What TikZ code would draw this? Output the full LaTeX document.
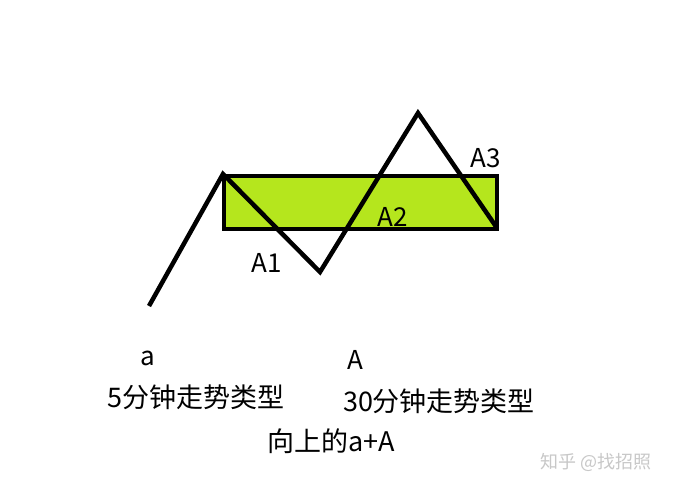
\documentclass[tikz,border=0pt]{standalone}
\usepackage{fontspec}
\setmainfont{Noto Sans CJK SC}
\definecolor{lime}{HTML}{B5E61D}
\definecolor{wm}{HTML}{C8C8C8}
\tikzset{
  lbl/.style={inner sep=0pt, font=\fontsize{26}{30}\selectfont},
  captext/.style={inner sep=0pt, font=\fontsize{27}{31}\selectfont},
  zig/.style={line width=4.5pt, black},
}
\begin{document}
\begin{tikzpicture}[x=1pt,y=-1pt]
\useasboundingbox[fill=white] (0,0) rectangle (678,491);
\draw[line width=4pt, fill=lime] (224,176) rectangle (497,228.5);
\coordinate (p0) at (149,306);
\coordinate (p1) at (223,174);
\coordinate (p2) at (320,272);
\coordinate (p3) at (418,113);
\coordinate (p4) at (497,228);
\draw[zig] (p0) -- (p1) -- (p2) -- (p3) -- (p4);
\node[lbl] (A1) at (267,263) {A1};
\node[lbl] (A2) at (393,217) {A2};
\node[lbl] (A3) at (486,158) {A3};
\node[lbl] (a) at (148,358) {a};
\node[lbl] (A) at (355,360) {A};
\node[captext] (t5) at (196,397) {5分钟走势类型};
\node[captext] (t30) at (439,401) {30分钟走势类型};
\node[captext] (up) at (331,441) {向上的a+A};
\node[inner sep=0pt, text=wm, font=\fontsize{18}{20}\selectfont] (w) at (596,462) {知乎 @找招照};
\end{tikzpicture}
\end{document}
